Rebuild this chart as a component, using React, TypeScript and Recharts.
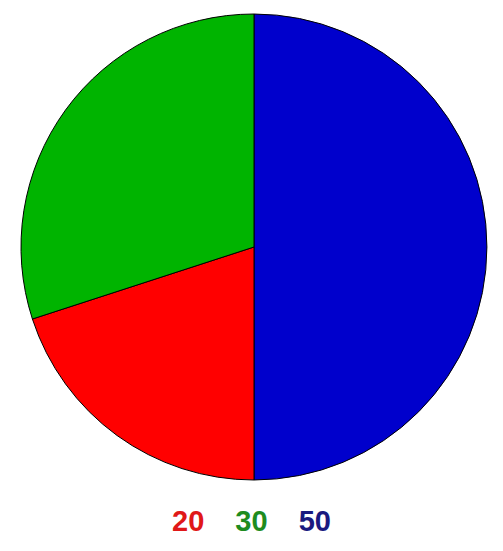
import { PieChart, Pie, Cell } from 'recharts';

const names = ['Blue', 'Red', 'Green'];
const values = [50, 20, 30];
const sliceColors = ['#0000cc', '#ff0000', '#00b400'];
const labelColors = ['#1a1a80', '#e01818', '#1e8c1e'];
// legend order as shown under the pie
const legendOrder = [1, 2, 0];

const data = names.map((name, i) => ({ name, value: values[i] }));

export default function App() {
  return (
    <div style={{ position: 'absolute', left: 0, top: 0, width: 503, height: 551, background: '#fff' }}>
      <PieChart width={503} height={551} margin={{ top: 0, right: 0, bottom: 0, left: 0 }}>
        <Pie
          data={data}
          dataKey="value"
          nameKey="name"
          cx={254}
          cy={247}
          outerRadius={233}
          startAngle={90}
          endAngle={-270}
          stroke="#000"
          strokeWidth={1}
          isAnimationActive={false}
        >
          {data.map((d, i) => (
            <Cell key={d.name} fill={sliceColors[i]} />
          ))}
        </Pie>
      </PieChart>
      <div
        style={{
          position: 'absolute',
          left: 0,
          top: 502,
          width: 503,
          display: 'flex',
          justifyContent: 'center',
          gap: 31,
          fontFamily: 'Liberation Sans, Arial, sans-serif',
          fontWeight: 'bold',
          fontSize: 29,
          lineHeight: '38px',
        }}
      >
        {legendOrder.map((i) => (
          <span key={names[i]} style={{ color: labelColors[i] }}>
            {values[i]}
          </span>
        ))}
      </div>
    </div>
  );
}
